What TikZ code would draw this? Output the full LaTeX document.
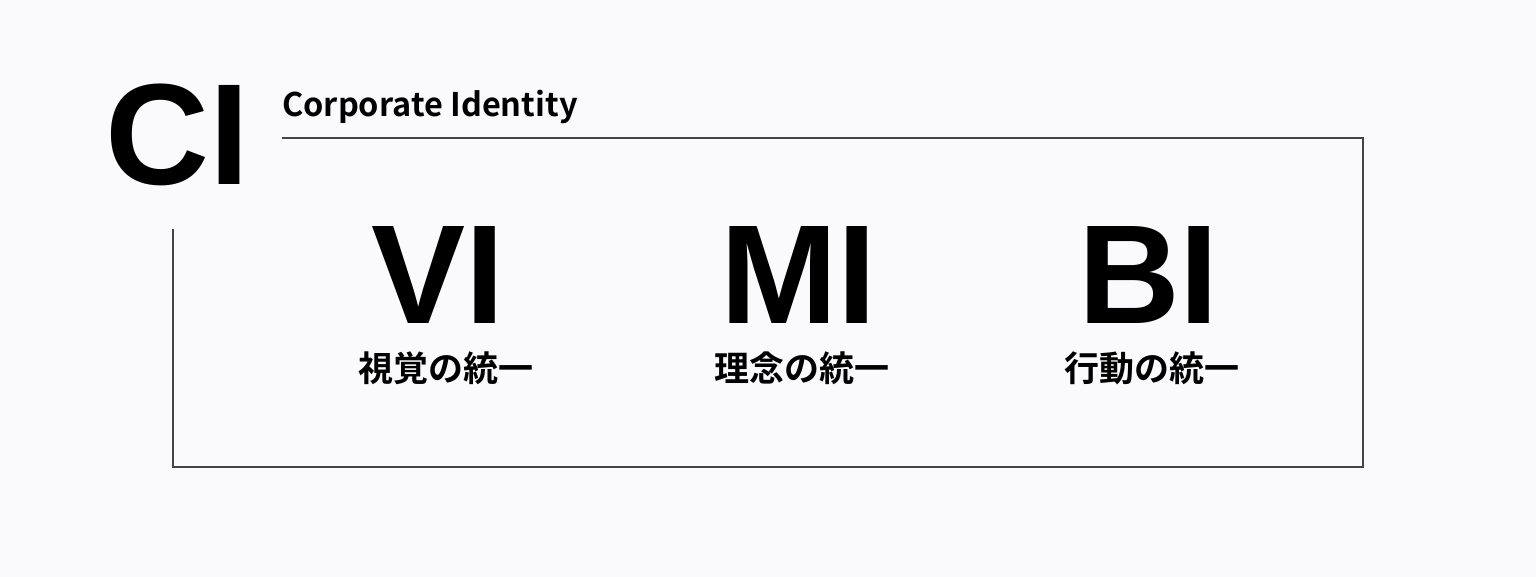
\documentclass[tikz,border=0pt]{standalone}
\usepackage{fontspec}
\setmainfont{Liberation Sans}
\newfontfamily\cjkfont{Noto Sans CJK JP}[BoldFont={* Bold}]
\definecolor{bgc}{HTML}{FAFAFC}
\definecolor{linec}{HTML}{444444}
\begin{document}
\begin{tikzpicture}[x=1pt,y=-1pt,
  bigl/.style={inner sep=0pt,font=\fontsize{141}{141}\selectfont\bfseries,anchor=base},
  jpl/.style={inner sep=0pt,font=\fontsize{35}{35}\selectfont\cjkfont\bfseries,anchor=center},
  framel/.style={draw=linec,line width=1.5pt}]
\useasboundingbox (0,0) rectangle (1536,577);
\fill[bgc] (0,0) rectangle (1536,577);
\node[inner sep=0pt,anchor=base west,font=\fontsize{144}{144}\selectfont\bfseries] (ci) at (105,185) {CI};
\node[inner sep=0pt,anchor=base west,font=\fontsize{32.5}{32.5}\selectfont\cjkfont\bfseries] (corp) at (282,117) {Corporate Identity};
\node[bigl] (vi) at (438,323) {VI};
\node[bigl] (mi) at (798.5,323) {MI};
\node[bigl] (bi) at (1148.5,323) {BI};
\node[jpl] (vij) at (446,368) {視覚の統一};
\node[jpl] (mij) at (802,368) {理念の統一};
\node[jpl] (bij) at (1152,368) {行動の統一};
\coordinate (f1) at (282,138);
\coordinate (f2) at (1363,138);
\coordinate (f3) at (1363,467);
\coordinate (f4) at (173,467);
\coordinate (f5) at (173,229);
\draw[framel] (f1) -- (f2) -- (f3) -- (f4) -- (f5);
\end{tikzpicture}
\end{document}
